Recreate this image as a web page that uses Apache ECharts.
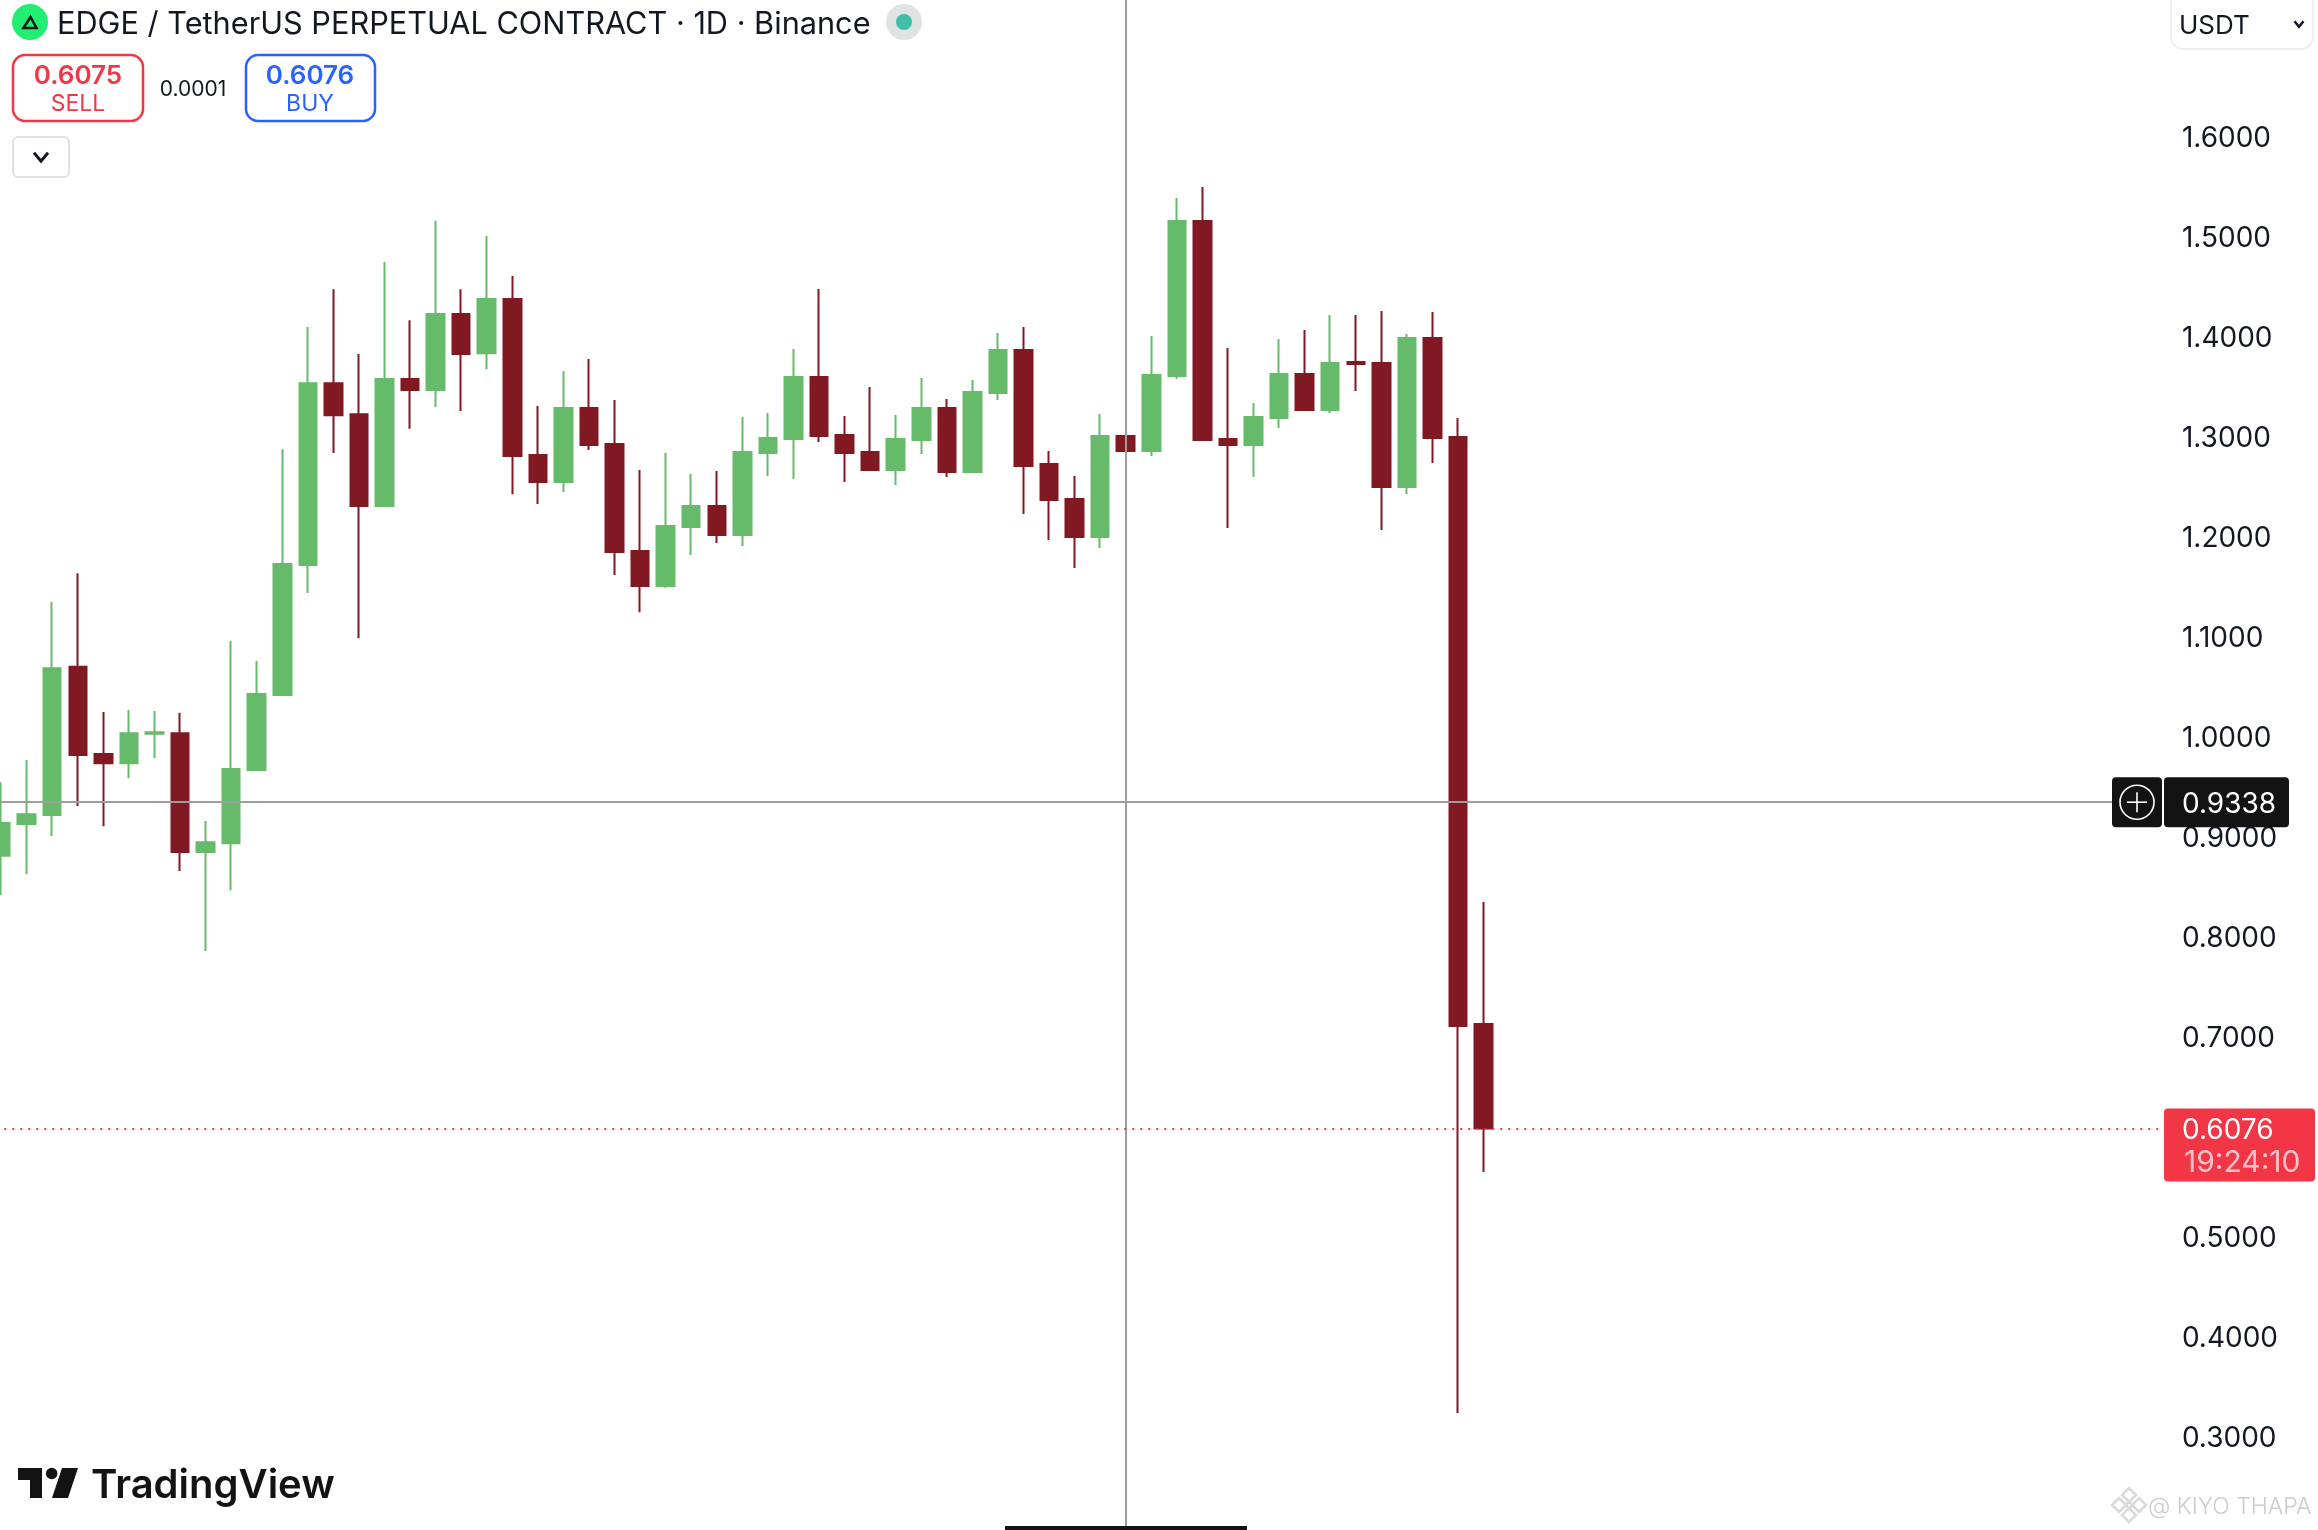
<!DOCTYPE html>
<html><head><meta charset="utf-8">
<style>html,body{margin:0;padding:0;background:#fff;overflow:hidden}#c{width:2318px;height:1530px}</style>
<script src="https://cdn.jsdelivr.net/npm/echarts@6/dist/echarts.min.js"></script>
</head><body><div id="c"></div>
<script>
const opens =[.8802,.9121,.9209,1.0692,.9820,.9727,1.0023,1.0028,.8840,.8928,.9660,1.0411,1.1710,1.3528,1.3217,1.2301,1.3571,1.3460,1.4221,1.3828,1.4371,1.2810,1.254,1.328,1.292,1.185,1.150,1.209,1.230,1.201,1.283,1.297,1.359,1.301,1.284,1.266,1.296,1.328,1.264,1.343,1.386,1.272,1.237,1.199,1.300,1.285,1.360,1.515,1.297,1.291,1.318,1.362,1.326,1.374,1.373,1.249,1.398,1.299,.712];
const closes=[.9131,.9218,1.0678,.9810,.9727,1.0028,1.0038,.8840,.8937,.9669,1.0421,1.1720,1.3528,1.3208,1.2301,1.3571,1.3460,1.4221,1.3819,1.4371,1.2801,1.2539,1.328,1.291,1.184,1.150,1.210,1.230,1.201,1.284,1.298,1.359,1.300,1.283,1.266,1.297,1.328,1.264,1.344,1.386,1.270,1.236,1.199,1.300,1.285,1.361,1.515,1.296,1.291,1.319,1.362,1.326,1.373,1.372,1.249,1.398,1.298,.710,.6076];
const lows  =[.8409,.8617,.9000,.9301,.9097,.9577,.9781,.8651,.7851,.8457,.9660,1.0411,1.1429,1.2830,1.0978,1.2301,1.3072,1.3290,1.3251,1.3668,1.2418,1.2321,1.244,1.286,1.161,1.1237,1.148,1.181,1.193,1.190,1.260,1.257,1.294,1.254,1.266,1.251,1.282,1.259,1.264,1.336,1.222,1.196,1.168,1.188,1.285,1.280,1.357,1.295,1.208,1.259,1.308,1.325,1.323,1.345,1.206,1.242,1.273,.323,.564];
const highs =[.9538,.9761,1.1342,1.1628,1.0241,1.0261,1.0251,1.0232,.9151,1.0949,1.0750,1.2868,1.4090,1.4468,1.3819,1.4740,1.4158,1.5152,1.4468,1.5001,1.4599,1.3300,1.365,1.377,1.336,1.266,1.283,1.262,1.265,1.319,1.323,1.387,1.447,1.320,1.349,1.321,1.358,1.337,1.356,1.403,1.409,1.285,1.260,1.322,1.300,1.400,1.538,1.549,1.388,1.333,1.397,1.406,1.421,1.421,1.425,1.402,1.424,1.318,.834];
const yTicks=[0.3,0.4,0.5,0.7,0.8,0.9,1.0,1.1,1.2,1.3,1.4,1.5,1.6];
const crossPrice=0.9338, lastPrice=0.6076, sellPrice='0.6075', buyPrice='0.6076', spread='0.0001', countdown='19:24:10';
const crossIndex=44, totalBars=85;
const titleText='EDGE / TetherUS PERPETUAL CONTRACT · 1D · Binance';
const GREEN='#66BB6A', RED='#801922', ALERT='#F23645', BLUE='#2962FF', INK='#131722', DARK='#131313', CROSS='#9E9E9E';
const FONT='Inter, "Liberation Sans", sans-serif';

const categories=Array.from({length:totalBars},(_,i)=>String(i+1));
const candles=opens.map((o,i)=>[o,closes[i],lows[i],highs[i]]);
const chart=echarts.init(document.getElementById('c'),null,{renderer:'canvas'});
const BAND=25.56;
chart.setOption({
  animation:false,backgroundColor:'#fff',
  grid:{left:1.1-BAND/2,top:-64,width:BAND*totalBars,height:1600,containLabel:false,outerBoundsMode:'none'},
  xAxis:{type:'category',data:categories,show:false,boundaryGap:true},
  yAxis:{type:'value',position:'right',min:0.2,max:1.8,interval:0.1,scale:true,
    axisLine:{show:false},axisTick:{show:false},splitLine:{show:false},
    axisLabel:{customValues:yTicks,margin:21,color:INK,fontFamily:FONT,fontSize:28,align:'left',verticalAlign:'top',lineHeight:6,formatter:v=>Number(v).toFixed(4)}},
  series:[{type:'candlestick',data:candles,barWidth:18,
    itemStyle:{color:GREEN,borderColor:GREEN,color0:RED,borderColor0:RED,borderWidth:2},
    markLine:{silent:true,symbol:'none',animation:false,z:6,precision:4,label:{show:false},
      data:[
        {xAxis:crossIndex,lineStyle:{color:CROSS,width:2,type:'solid'}},
        {yAxis:crossPrice,lineStyle:{color:CROSS,width:2,type:'solid'}},
        {yAxis:lastPrice,lineStyle:{color:ALERT,width:2,type:[2,6]}}
      ]}
  }]
});

const crossY=chart.convertToPixel({yAxisIndex:0},crossPrice);
const priceY=chart.convertToPixel({yAxisIndex:0},lastPrice);
function T(text,x,y,size,fill,align,weight){return {type:'text',z:50,style:{text,x,y,fill,font:(weight||400)+' '+size+'px '+FONT,align:align||'left',verticalAlign:'middle',textAlign:align||'left',textVerticalAlign:'middle'}};}
function R(x,y,w,h,r,fill,stroke,lw){return {type:'rect',z:40,shape:{x,y,width:w,height:h,r},style:{fill:fill||'none',stroke:stroke||'none',lineWidth:lw||0}};}
function P(points,fill){return {type:'polygon',z:45,shape:{points},style:{fill}};}
function Chev(cx,cy,s,c,lw){return {type:'polyline',z:45,shape:{points:[[cx-s,cy-s*0.6],[cx,cy+s*0.6],[cx+s,cy-s*0.6]]},style:{stroke:c,lineWidth:lw,fill:'none'}};}
function C(cx,cy,r,fill,stroke,lw){return {type:'circle',z:45,shape:{cx,cy,r},style:{fill:fill||'none',stroke:stroke||'none',lineWidth:lw||0}};}
function Diamond(cx,cy,r,c){return {type:'polygon',z:45,shape:{points:[[cx,cy-r],[cx+r,cy],[cx,cy+r],[cx-r,cy]]},style:{fill:'none',stroke:c,lineWidth:2.5}};}

const g=[
  // header
  C(30,22,18,'#22EE72'),
  {type:'polygon',z:46,shape:{points:[[30.5,17],[36.5,28],[23.5,28]]},style:{fill:'none',stroke:'#101a16',lineWidth:2.6}},
  T(titleText,57,25,30.7,'#131722'),
  C(904,22,18,'#E0E3E3'),C(904,22,8,'#42BDA8'),
  R(13,55,130,66,12,'#fff',ALERT,2.5),
  T(sellPrice,78,76.5,26,ALERT,'center',600),T('SELL',78,104,23,ALERT,'center'),
  T(spread,193,90,21,INK,'center'),
  R(246,55,129,66,12,'#fff',BLUE,2.5),
  T(buyPrice,310,76.5,26,BLUE,'center',600),T('BUY',310,104,23,BLUE,'center'),
  R(13,137,56,40,5,'#fff','#E0E3E3',2),
  Chev(41,157,7,'#131722',3),
  // currency box
  R(2171,-10,142,59,12,'#fff','#EEEEEE',2),
  T('USDT',2179,26,26,INK),
  Chev(2299,24,4.5,'#131722',2.5),
  // crosshair tag
  R(2112,crossY-25,50,50,4,DARK),
  C(2137,crossY,17,'none','#fff',1.6),
  {type:'line',z:46,shape:{x1:2127,y1:crossY,x2:2147,y2:crossY},style:{stroke:'#fff',lineWidth:1.6}},
  {type:'line',z:46,shape:{x1:2137,y1:crossY-10,x2:2137,y2:crossY+10},style:{stroke:'#fff',lineWidth:1.6}},
  R(2164,crossY-25,125,50,4,DARK),
  T(crossPrice.toFixed(4),2182,crossY+2,28,'#fff'),
  // last price tag
  R(2164,priceY-20,151,73,4,ALERT),
  T(lastPrice.toFixed(4),2182,priceY+2,28,'#fff'),
  T(countdown,2184,priceY+35,30,'rgba(255,255,255,0.7)'),
  // TradingView logo
  P([[18,1468],[42,1468],[42,1498],[30,1498],[30,1480],[18,1480]],'#131313'),
  C(51.7,1473.5,5.8,'#131313'),
  P([[62,1468],[78,1468],[68,1498],[52,1498]],'#131313'),
  T('TradingView',91,1486,40,'#131313','left',600),
  // bottom bar
  R(1005,1526,242,6,0,'#131313'),
  // watermark
  Diamond(2129,1495,7,'#DADADA'),Diamond(2119,1505,7,'#DADADA'),Diamond(2139,1505,7,'#DADADA'),Diamond(2129,1515,7,'#DADADA'),Diamond(2129,1505,3.5,'#DADADA'),
  T('@ KIYO THAPA',2148,1507,23,'#CCCCCC','left',300)
];
chart.setOption({graphic:{elements:g}});
</script></body></html>
